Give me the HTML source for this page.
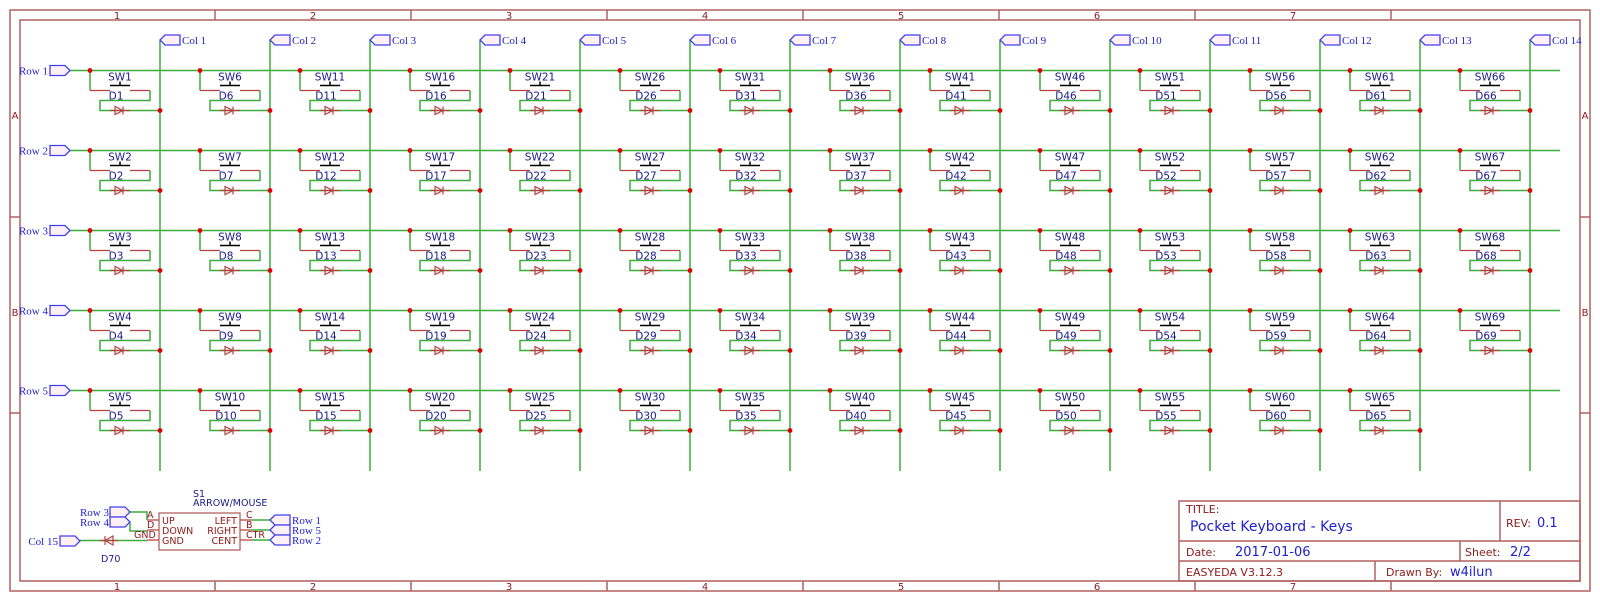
<!DOCTYPE html>
<html><head><meta charset="utf-8"><style>
html,body{margin:0;padding:0;background:#fff;}
svg{display:block;}
.f{stroke:#b06060;fill:none;stroke-width:1.5}
.ft{fill:#8b1a1a;font:10px "DejaVu Sans","Liberation Sans",sans-serif}
.sw{fill:#1a1a8c;font:10.5px "DejaVu Sans","Liberation Sans",sans-serif;text-anchor:middle}
.pt{fill:#2020d0;font:11px "Liberation Serif",serif}
.g{stroke:#3cae3c;stroke-width:1.5;fill:none}
.port{stroke:#4040ee;fill:#fff0f5;stroke-width:1.3}
</style></head><body>
<svg width="1600" height="601" viewBox="0 0 1600 601" xmlns="http://www.w3.org/2000/svg">
<defs>
<g id="cell">
<path class="g" d="M0,0V20M60,20V30H10V40H70"/>
<path d="M0,20H20M40,20H60M20,40H40" stroke="#b84040" stroke-width="1.2" fill="none"/>
<polygon points="25,36 25,44 33,40" fill="none" stroke="#b84040" stroke-width="1.2"/>
<path d="M33,36V44" stroke="#b84040" stroke-width="1.2"/>
<path d="M20,15H40M30,11V15" stroke="#000" stroke-width="1.5"/>
<circle cx="0" cy="0" r="2.4" fill="#d00"/>
<circle cx="70" cy="40" r="2.4" fill="#d00"/>
</g>
<polygon id="cport" class="port" points="0,0 5,-5 20,-5 20,5 5,5"/>
<polygon id="rport" class="port" points="0,-5 15,-5 20,0 15,5 0,5"/>
</defs>
<!-- frame -->
<rect x="10" y="10" width="1580" height="581" class="f"/>
<rect x="20" y="20" width="1560" height="561" class="f"/>
<path class="f" d="M215,10V20M411,10V20M607,10V20M803,10V20M999,10V20M1195,10V20M1391,10V20M215,581V591M411,581V591M607,581V591M803,581V591M999,581V591M1195,581V591M1391,581V591M10,217H20M10,413H20M1580,217H1590M1580,413H1590"/>
<g class="ft" text-anchor="middle">
<text x="117" y="19">1</text><text x="313" y="19">2</text><text x="509" y="19">3</text><text x="705" y="19">4</text><text x="901" y="19">5</text><text x="1097" y="19">6</text><text x="1293" y="19">7</text>
<text x="117" y="590">1</text><text x="313" y="590">2</text><text x="509" y="590">3</text><text x="705" y="590">4</text><text x="901" y="590">5</text><text x="1097" y="590">6</text><text x="1293" y="590">7</text>
<text x="15" y="119">A</text><text x="15" y="316">B</text><text x="1585" y="119">A</text><text x="1585" y="316">B</text>
</g>
<!-- columns -->
<path class="g" d="M160,40V471M270,40V471M370,40V471M480,40V471M580,40V471M690,40V471M790,40V471M900,40V471M1000,40V471M1110,40V471M1210,40V471M1320,40V471M1420,40V471M1530,40V471"/>
<path class="g" d="M70,70.5H1560M70,150.5H1560M70,230.5H1560M70,310.5H1560M70,390.5H1560"/>
<g>
<use href="#cport" x="160" y="40"/><use href="#cport" x="270" y="40"/><use href="#cport" x="370" y="40"/><use href="#cport" x="480" y="40"/><use href="#cport" x="580" y="40"/><use href="#cport" x="690" y="40"/><use href="#cport" x="790" y="40"/><use href="#cport" x="900" y="40"/><use href="#cport" x="1000" y="40"/><use href="#cport" x="1110" y="40"/><use href="#cport" x="1210" y="40"/><use href="#cport" x="1320" y="40"/><use href="#cport" x="1420" y="40"/><use href="#cport" x="1530" y="40"/>
</g>
<g class="pt">
<text x="182" y="44">Col 1</text><text x="292" y="44">Col 2</text><text x="392" y="44">Col 3</text><text x="502" y="44">Col 4</text><text x="602" y="44">Col 5</text><text x="712" y="44">Col 6</text><text x="812" y="44">Col 7</text><text x="922" y="44">Col 8</text><text x="1022" y="44">Col 9</text><text x="1132" y="44">Col 10</text><text x="1232" y="44">Col 11</text><text x="1342" y="44">Col 12</text><text x="1442" y="44">Col 13</text><text x="1552" y="44">Col 14</text>
</g>
<use href="#rport" x="50" y="70.5"/><use href="#rport" x="50" y="150.5"/><use href="#rport" x="50" y="230.5"/><use href="#rport" x="50" y="310.5"/><use href="#rport" x="50" y="390.5"/>
<g class="pt" text-anchor="end">
<text x="48" y="74.5">Row 1</text><text x="48" y="154.5">Row 2</text><text x="48" y="234.5">Row 3</text><text x="48" y="314.5">Row 4</text><text x="48" y="394.5">Row 5</text>
</g>
<!-- row 1 -->
<g transform="translate(0,70.5)">
<use href="#cell" x="90"/><use href="#cell" x="200"/><use href="#cell" x="300"/><use href="#cell" x="410"/><use href="#cell" x="510"/><use href="#cell" x="620"/><use href="#cell" x="720"/><use href="#cell" x="830"/><use href="#cell" x="930"/><use href="#cell" x="1040"/><use href="#cell" x="1140"/><use href="#cell" x="1250"/><use href="#cell" x="1350"/><use href="#cell" x="1460"/>
<g class="sw">
<text x="120" y="10">SW1</text><text x="230" y="10">SW6</text><text x="330" y="10">SW11</text><text x="440" y="10">SW16</text><text x="540" y="10">SW21</text><text x="650" y="10">SW26</text><text x="750" y="10">SW31</text><text x="860" y="10">SW36</text><text x="960" y="10">SW41</text><text x="1070" y="10">SW46</text><text x="1170" y="10">SW51</text><text x="1280" y="10">SW56</text><text x="1380" y="10">SW61</text><text x="1490" y="10">SW66</text>
<text x="116" y="29">D1</text><text x="226" y="29">D6</text><text x="326" y="29">D11</text><text x="436" y="29">D16</text><text x="536" y="29">D21</text><text x="646" y="29">D26</text><text x="746" y="29">D31</text><text x="856" y="29">D36</text><text x="956" y="29">D41</text><text x="1066" y="29">D46</text><text x="1166" y="29">D51</text><text x="1276" y="29">D56</text><text x="1376" y="29">D61</text><text x="1486" y="29">D66</text>
</g></g>
<!-- row 2 -->
<g transform="translate(0,150.5)">
<use href="#cell" x="90"/><use href="#cell" x="200"/><use href="#cell" x="300"/><use href="#cell" x="410"/><use href="#cell" x="510"/><use href="#cell" x="620"/><use href="#cell" x="720"/><use href="#cell" x="830"/><use href="#cell" x="930"/><use href="#cell" x="1040"/><use href="#cell" x="1140"/><use href="#cell" x="1250"/><use href="#cell" x="1350"/><use href="#cell" x="1460"/>
<g class="sw">
<text x="120" y="10">SW2</text><text x="230" y="10">SW7</text><text x="330" y="10">SW12</text><text x="440" y="10">SW17</text><text x="540" y="10">SW22</text><text x="650" y="10">SW27</text><text x="750" y="10">SW32</text><text x="860" y="10">SW37</text><text x="960" y="10">SW42</text><text x="1070" y="10">SW47</text><text x="1170" y="10">SW52</text><text x="1280" y="10">SW57</text><text x="1380" y="10">SW62</text><text x="1490" y="10">SW67</text>
<text x="116" y="29">D2</text><text x="226" y="29">D7</text><text x="326" y="29">D12</text><text x="436" y="29">D17</text><text x="536" y="29">D22</text><text x="646" y="29">D27</text><text x="746" y="29">D32</text><text x="856" y="29">D37</text><text x="956" y="29">D42</text><text x="1066" y="29">D47</text><text x="1166" y="29">D52</text><text x="1276" y="29">D57</text><text x="1376" y="29">D62</text><text x="1486" y="29">D67</text>
</g></g>
<!-- row 3 -->
<g transform="translate(0,230.5)">
<use href="#cell" x="90"/><use href="#cell" x="200"/><use href="#cell" x="300"/><use href="#cell" x="410"/><use href="#cell" x="510"/><use href="#cell" x="620"/><use href="#cell" x="720"/><use href="#cell" x="830"/><use href="#cell" x="930"/><use href="#cell" x="1040"/><use href="#cell" x="1140"/><use href="#cell" x="1250"/><use href="#cell" x="1350"/><use href="#cell" x="1460"/>
<g class="sw">
<text x="120" y="10">SW3</text><text x="230" y="10">SW8</text><text x="330" y="10">SW13</text><text x="440" y="10">SW18</text><text x="540" y="10">SW23</text><text x="650" y="10">SW28</text><text x="750" y="10">SW33</text><text x="860" y="10">SW38</text><text x="960" y="10">SW43</text><text x="1070" y="10">SW48</text><text x="1170" y="10">SW53</text><text x="1280" y="10">SW58</text><text x="1380" y="10">SW63</text><text x="1490" y="10">SW68</text>
<text x="116" y="29">D3</text><text x="226" y="29">D8</text><text x="326" y="29">D13</text><text x="436" y="29">D18</text><text x="536" y="29">D23</text><text x="646" y="29">D28</text><text x="746" y="29">D33</text><text x="856" y="29">D38</text><text x="956" y="29">D43</text><text x="1066" y="29">D48</text><text x="1166" y="29">D53</text><text x="1276" y="29">D58</text><text x="1376" y="29">D63</text><text x="1486" y="29">D68</text>
</g></g>
<!-- row 4 -->
<g transform="translate(0,310.5)">
<use href="#cell" x="90"/><use href="#cell" x="200"/><use href="#cell" x="300"/><use href="#cell" x="410"/><use href="#cell" x="510"/><use href="#cell" x="620"/><use href="#cell" x="720"/><use href="#cell" x="830"/><use href="#cell" x="930"/><use href="#cell" x="1040"/><use href="#cell" x="1140"/><use href="#cell" x="1250"/><use href="#cell" x="1350"/><use href="#cell" x="1460"/>
<g class="sw">
<text x="120" y="10">SW4</text><text x="230" y="10">SW9</text><text x="330" y="10">SW14</text><text x="440" y="10">SW19</text><text x="540" y="10">SW24</text><text x="650" y="10">SW29</text><text x="750" y="10">SW34</text><text x="860" y="10">SW39</text><text x="960" y="10">SW44</text><text x="1070" y="10">SW49</text><text x="1170" y="10">SW54</text><text x="1280" y="10">SW59</text><text x="1380" y="10">SW64</text><text x="1490" y="10">SW69</text>
<text x="116" y="29">D4</text><text x="226" y="29">D9</text><text x="326" y="29">D14</text><text x="436" y="29">D19</text><text x="536" y="29">D24</text><text x="646" y="29">D29</text><text x="746" y="29">D34</text><text x="856" y="29">D39</text><text x="956" y="29">D44</text><text x="1066" y="29">D49</text><text x="1166" y="29">D54</text><text x="1276" y="29">D59</text><text x="1376" y="29">D64</text><text x="1486" y="29">D69</text>
</g></g>
<!-- row 5 -->
<g transform="translate(0,390.5)">
<use href="#cell" x="90"/><use href="#cell" x="200"/><use href="#cell" x="300"/><use href="#cell" x="410"/><use href="#cell" x="510"/><use href="#cell" x="620"/><use href="#cell" x="720"/><use href="#cell" x="830"/><use href="#cell" x="930"/><use href="#cell" x="1040"/><use href="#cell" x="1140"/><use href="#cell" x="1250"/><use href="#cell" x="1350"/>
<g class="sw">
<text x="120" y="10">SW5</text><text x="230" y="10">SW10</text><text x="330" y="10">SW15</text><text x="440" y="10">SW20</text><text x="540" y="10">SW25</text><text x="650" y="10">SW30</text><text x="750" y="10">SW35</text><text x="860" y="10">SW40</text><text x="960" y="10">SW45</text><text x="1070" y="10">SW50</text><text x="1170" y="10">SW55</text><text x="1280" y="10">SW60</text><text x="1380" y="10">SW65</text>
<text x="116" y="29">D5</text><text x="226" y="29">D10</text><text x="326" y="29">D15</text><text x="436" y="29">D20</text><text x="536" y="29">D25</text><text x="646" y="29">D30</text><text x="746" y="29">D35</text><text x="856" y="29">D40</text><text x="956" y="29">D45</text><text x="1066" y="29">D50</text><text x="1166" y="29">D55</text><text x="1276" y="29">D60</text><text x="1376" y="29">D65</text>
</g></g>
<!-- S1 -->
<rect x="159" y="513" width="81" height="37" fill="none" stroke="#b06060" stroke-width="1.3"/>
<path d="M147,520H159M147,530H159M147,540H159M240,520H252M240,530H252M240,540H252" stroke="#b84040" stroke-width="1.2"/>
<path class="g" d="M130,512H147V520M130,522V531H147M252,520H270M252,530H270M252,540H270M80,540.5H147"/>
<path d="M100,540.5H118" stroke="#b84040" stroke-width="1.2"/>
<polygon points="113,536 113,545 105,540.5" fill="none" stroke="#b84040" stroke-width="1.2"/>
<path d="M105,536V545" stroke="#b84040" stroke-width="1.2"/>
<use href="#rport" x="110" y="512"/><use href="#rport" x="110" y="522"/>
<use href="#cport" x="270" y="520"/><use href="#cport" x="270" y="530"/><use href="#cport" x="270" y="540"/>
<use href="#rport" x="60" y="541"/>
<g class="pt">
<text x="109" y="516" text-anchor="end">Row 3</text><text x="109" y="526" text-anchor="end">Row 4</text>
<text x="58" y="545" text-anchor="end">Col 15</text>
<text x="292" y="524">Row 1</text><text x="292" y="534">Row 5</text><text x="292" y="544">Row 2</text>
</g>
<g fill="#8b1a1a" font-family="DejaVu Sans,Liberation Sans,sans-serif" font-size="9.5">
<text x="162" y="524">UP</text><text x="162" y="534">DOWN</text><text x="162" y="544">GND</text>
<text x="237" y="524" text-anchor="end">LEFT</text><text x="237" y="534" text-anchor="end">RIGHT</text><text x="237" y="544" text-anchor="end">CENT</text>
<text x="147" y="518">A</text><text x="147" y="528">D</text><text x="134" y="538">GND</text>
<text x="246" y="518">C</text><text x="246" y="528">B</text><text x="246" y="538">CTR</text>
</g>
<g fill="#1a1a8c" font-family="DejaVu Sans,Liberation Sans,sans-serif" font-size="9.5">
<text x="193" y="497">S1</text><text x="193" y="506">ARROW/MOUSE</text><text x="101" y="562">D70</text>
</g>
<!-- title block -->
<rect x="1179" y="501" width="401" height="80" class="f"/>
<path class="f" d="M1179,541H1580M1179,561H1580M1500,501V541M1460,541V561M1375,561V581"/>
<g fill="#8b1a1a" font-family="DejaVu Sans,Liberation Sans,sans-serif" font-size="11">
<text x="1186" y="513">TITLE:</text><text x="1506" y="527">REV:</text>
<text x="1186" y="556">Date:</text><text x="1465" y="556">Sheet:</text>
<text x="1186" y="576">EASYEDA V3.12.3</text><text x="1386" y="576">Drawn By:</text>
</g>
<g fill="#2020d0" font-family="DejaVu Sans,Liberation Sans,sans-serif">
<text x="1190" y="531" font-size="14">Pocket Keyboard - Keys</text>
<text x="1537" y="527" font-size="13">0.1</text>
<text x="1235" y="556" font-size="13">2017-01-06</text>
<text x="1510" y="556" font-size="13">2/2</text>
<text x="1450" y="576" font-size="13">w4ilun</text>
</g>
</svg>
</body></html>
